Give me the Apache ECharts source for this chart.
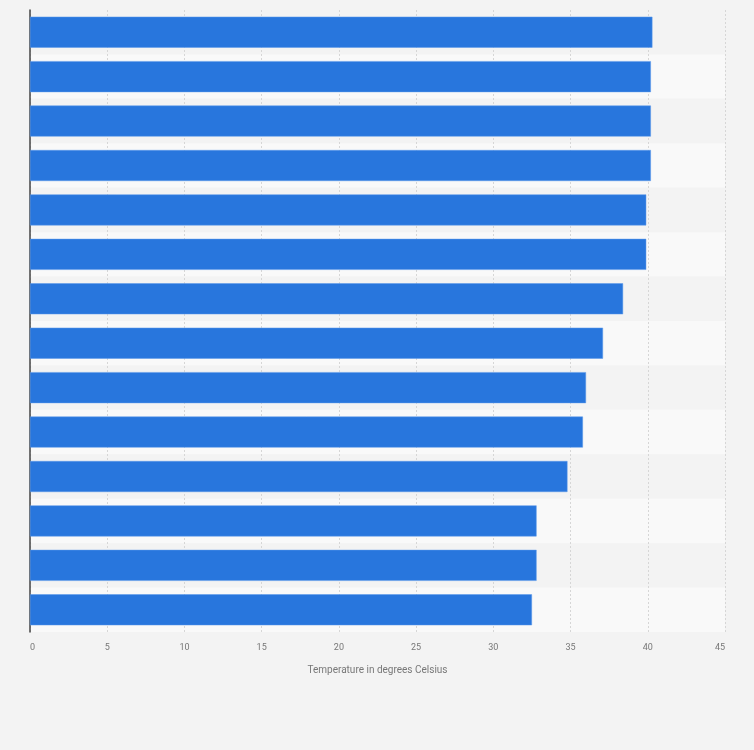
<html>
<head>
    <meta http-equiv="Content-Type" content="text/html; charset=utf-8" />
    <title>Temperature chart</title>
    <style>
        html, body { margin: 0; padding: 0; background: #f3f3f3; }
        #container { width: 754px; height: 750px; }
    </style>
</head>
<body>
    <div id="container"></div>
    <script src="https://cdn.jsdelivr.net/npm/echarts@6/dist/echarts.min.js"></script>
    <script type="text/javascript">
    // category labels are hidden in the original picture
    var categories = ['1', '2', '3', '4', '5', '6', '7', '8', '9', '10', '11', '12', '13', '14'];
    var temps = [40.3, 40.2, 40.2, 40.2, 39.9, 39.9, 38.4, 37.1, 36.0, 35.8, 34.8, 32.8, 32.8, 32.5];
    var xTicks = [0, 5, 10, 15, 20, 25, 30, 35, 40, 45];

    var myChart = echarts.init(document.getElementById('container'));

    myChart.setOption({
        backgroundColor: '#f3f3f3',
        animation: false,
        grid: {
            left: 30,
            right: 29,
            top: 10,
            bottom: 118
        },
        xAxis: {
            type: 'value',
            min: xTicks[0],
            max: xTicks[xTicks.length - 1],
            interval: 5,
            name: 'Temperature in degrees Celsius',
            nameLocation: 'middle',
            nameGap: 33,
            nameTextStyle: {
                color: '#777',
                fontSize: 10,
                fontFamily: 'Roboto'
            },
            axisLine: { show: false },
            axisTick: { show: false },
            axisLabel: {
                color: '#777',
                fontSize: 9,
                fontFamily: 'Roboto',
                margin: 11,
                alignMinLabel: 'left',
                alignMaxLabel: 'right'
            },
            splitLine: {
                show: true,
                lineStyle: { color: '#d6d6d6', type: [2, 2], width: 1 }
            }
        },
        yAxis: {
            type: 'category',
            inverse: true,
            data: categories,
            axisLabel: { show: false },
            axisTick: { show: false },
            axisLine: {
                show: true,
                lineStyle: { color: '#444', width: 1.5 }
            },
            splitArea: {
                show: true,
                areaStyle: { color: ['#f3f3f3', '#f9f9f9'] }
            }
        },
        series: [{
            type: 'bar',
            data: temps,
            barWidth: 31,
            itemStyle: {
                color: '#2876dd',
                borderColor: '#5a98ea',
                borderWidth: 0.5
            }
        }]
    });
    </script>
</body>
</html>
